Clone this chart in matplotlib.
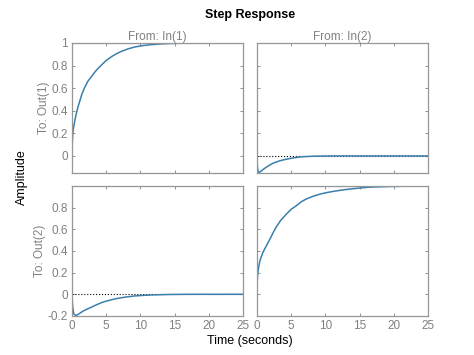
import matplotlib
matplotlib.use('Agg')
import matplotlib.pyplot as plt

# step response samples (time in s, amplitude)
t11 = [0, 0.03, 0.1, 0.2, 0.4, 0.6, 0.9, 1.1, 1.4, 1.8, 2.3, 2.8, 3.3, 3.8, 4.3, 5.0,
       5.8, 6.5, 7.2, 8.2, 9.2, 10.4, 11.6, 12.8, 14, 17, 20, 25]
y11 = [0, 0.10, 0.19, 0.245, 0.31, 0.37, 0.44, 0.48, 0.54, 0.60, 0.66, 0.70, 0.74, 0.775,
       0.805, 0.845, 0.88, 0.905, 0.925, 0.948, 0.965, 0.977, 0.985, 0.991, 0.995, 0.999, 1.0, 1.0]

t12 = [0, 0.05, 0.1, 0.2, 0.3, 0.5, 0.9, 1.2, 1.5, 1.9, 2.3, 2.8, 3.3, 3.8, 4.3, 5.0,
       5.5, 6.1, 6.7, 7.6, 8.5, 9.7, 11, 25]
y12 = [0, -0.07, -0.11, -0.138, -0.145, -0.14, -0.12, -0.107, -0.095, -0.08, -0.066,
       -0.054, -0.044, -0.036, -0.029, -0.021, -0.016, -0.011, -0.007, -0.004, -0.002,
       -0.001, 0, 0]

t21 = [0, 0.05, 0.1, 0.25, 0.5, 0.7, 0.9, 1.4, 1.7, 2.1, 2.5, 2.9, 3.6, 4.3, 5.0, 5.5,
       6.1, 6.7, 7.4, 8.0, 9.2, 10.4, 11.6, 12.8, 14, 17, 25]
y21 = [0, -0.07, -0.12, -0.18, -0.195, -0.192, -0.185, -0.164, -0.152, -0.14, -0.128,
       -0.117, -0.096, -0.077, -0.063, -0.055, -0.045, -0.037, -0.03, -0.024, -0.015,
       -0.01, -0.006, -0.004, -0.002, 0, 0]

t22 = [0, 0.03, 0.1, 0.2, 0.4, 0.6, 0.9, 1.4, 1.9, 2.3, 2.8, 3.5, 4.3, 5.0, 5.8, 6.5,
       7.2, 8.2, 9.2, 10.4, 11.6, 12.8, 14, 16.5, 20, 25]
y22 = [0, 0.09, 0.17, 0.23, 0.30, 0.34, 0.39, 0.45, 0.51, 0.56, 0.62, 0.685, 0.74, 0.785,
       0.82, 0.855, 0.88, 0.905, 0.925, 0.942, 0.955, 0.966, 0.975, 0.99, 0.997, 1.0]

finals = [[1, 0], [0, 1]]
xticks = [0, 5, 10, 15, 20, 25]
yticks_top = [0, 0.2, 0.4, 0.6, 0.8, 1]
yticks_bot = [-0.2, 0, 0.2, 0.4, 0.6, 0.8]

LINE = '#3a7fab'
GRAY = '#808080'
plt.rcParams['font.family'] = ['Liberation Sans', 'DejaVu Sans']

fig = plt.figure(figsize=(4.74, 3.55), dpi=100)
lefts = [0.152, 0.542]
bottoms = [0.513, 0.110]
w, h = 0.361, 0.366
data = [[(t11, y11), (t12, y12)], [(t21, y21), (t22, y22)]]

for r in range(2):
    for c in range(2):
        ax = fig.add_axes([lefts[c], bottoms[r], w, h])
        t, y = data[r][c]
        ax.axhline(finals[r][c], color='k', ls=':', lw=0.8)
        ax.plot(t, y, color=LINE, lw=1.1)
        ax.set_xlim(0, 25)
        if r == 0:
            ax.set_ylim(-0.15, 1)
            ax.set_yticks(yticks_top)
            ax.set_yticklabels(['0', '0.2', '0.4', '0.6', '0.8', '1'])
        else:
            ax.set_ylim(-0.2, 1)
            ax.set_yticks(yticks_bot)
            ax.set_yticklabels(['-0.2', '0', '0.2', '0.4', '0.6', '0.8'])
        ax.set_xticks(xticks)
        ax.tick_params(direction='in', length=2.5, width=0.6, colors=GRAY,
                       labelsize=8.5, top=True, right=True, pad=3)
        for s in ax.spines.values():
            s.set_color('#969696')
            s.set_linewidth(0.9)
        if r == 0:
            ax.set_xticklabels([])
            ax.set_title(f'From: In({c + 1})', color=GRAY, fontsize=8.5, pad=2)
        if c == 1:
            ax.set_yticklabels([])
        else:
            ax.set_ylabel(f'To: Out({r + 1})', color=GRAY, fontsize=8.5, labelpad=1)

fig.text(0.527, 0.958, 'Step Response', ha='center', va='center',
         fontsize=9, fontweight='bold')
fig.text(0.047, 0.50, 'Amplitude', ha='center', va='center', rotation=90, fontsize=9)
fig.text(0.527, 0.040, 'Time (seconds)', ha='center', va='center', fontsize=9)

fig.savefig('out.png', dpi=100)
